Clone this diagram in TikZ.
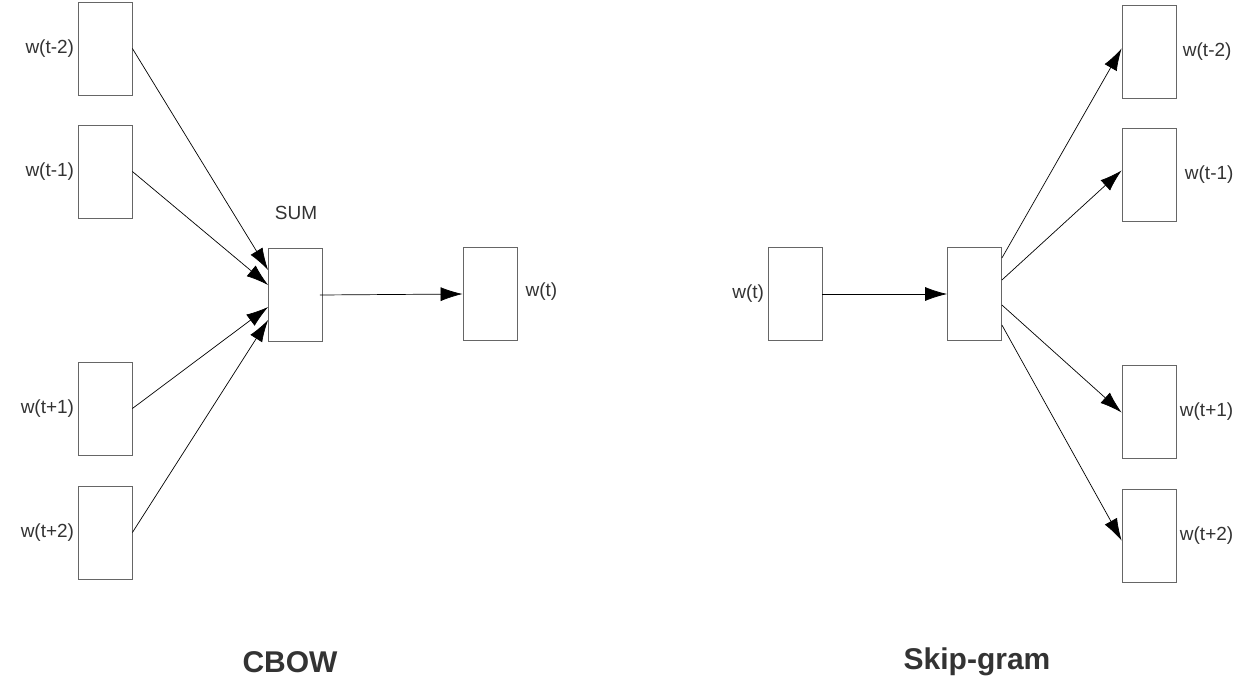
\documentclass[tikz,border=0pt]{standalone}
\usepackage{fontspec}
\setmainfont{Liberation Sans}
\usetikzlibrary{arrows.meta}
\begin{document}
\begin{tikzpicture}[x=1pt,y=-1pt,
  box/.style={draw=black!60,line width=0.8pt,minimum width=54pt,minimum height=93pt,inner sep=0},
  lab/.style={text=black!80,font=\fontsize{19}{19}\selectfont},
  ttl/.style={text=black!80,font=\bfseries\fontsize{30}{30}\selectfont},
  arr/.style={line width=0.7pt,-{Latex[length=22pt,width=14pt]}}]
\useasboundingbox[fill=white] (0,0) rectangle (1254,685);
% CBOW
\node[box] (a1) at (105,48.5) {};
\node[box] (a2) at (105,171.5) {};
\node[box] (a3) at (105,408.5) {};
\node[box] (a4) at (105,532.5) {};
\node[box] (s) at (295.5,295) {};
\node[box] (o) at (490,294) {};
\node[lab,anchor=east] at (a1.west) {w(t-2)};
\node[lab,anchor=east] at (a2.west) {w(t-1)};
\node[lab,anchor=east] at (a3.west) {w(t+1)};
\node[lab,anchor=east] at (a4.west) {w(t+2)};
\node[lab] at (296,213) {SUM};
\node[lab,anchor=west] at (522,292) {w(t)};
\draw[arr] (a1.east) -- ([yshift=25pt]s.west);
\draw[arr] (a2.east) -- ([yshift=10pt]s.west);
\draw[arr] (a3.east) -- ([yshift=-12pt]s.west);
\draw[arr] (a4.east) -- ([yshift=-25pt]s.west);
\draw[arr] ([xshift=-3pt]s.east) -- (o.west);
\node[ttl] at (290,662) {CBOW};
% Skip-gram
\node[box] (i) at (795,294) {};
\node[box] (h) at (974.5,294) {};
\node[box] (b1) at (1149,51.5) {};
\node[box] (b2) at (1149,174.5) {};
\node[box] (b3) at (1149,411.5) {};
\node[box] (b4) at (1149,535.5) {};
\node[lab,anchor=east] at (i.west) {w(t)};
\node[lab,anchor=west] at ([xshift=3pt]b1.east) {w(t-2)};
\node[lab,anchor=west] at ([xshift=5pt]b2.east) {w(t-1)};
\node[lab,anchor=west] at ([xshift=0pt]b3.east) {w(t+1)};
\node[lab,anchor=west] at ([xshift=0pt]b4.east) {w(t+2)};
\draw[arr] (i.east) -- (h.west);
\draw[arr] ([yshift=36pt]h.east) -- ([yshift=3pt]b1.west);
\draw[arr] ([yshift=14pt]h.east) -- ([yshift=4pt]b2.west);
\draw[arr] ([yshift=-11pt]h.east) -- ([yshift=-1pt]b3.west);
\draw[arr] ([yshift=-31pt]h.east) -- ([yshift=-5pt]b4.west);
\node[ttl] at (977,662) {Skip-gram};
\end{tikzpicture}
\end{document}
